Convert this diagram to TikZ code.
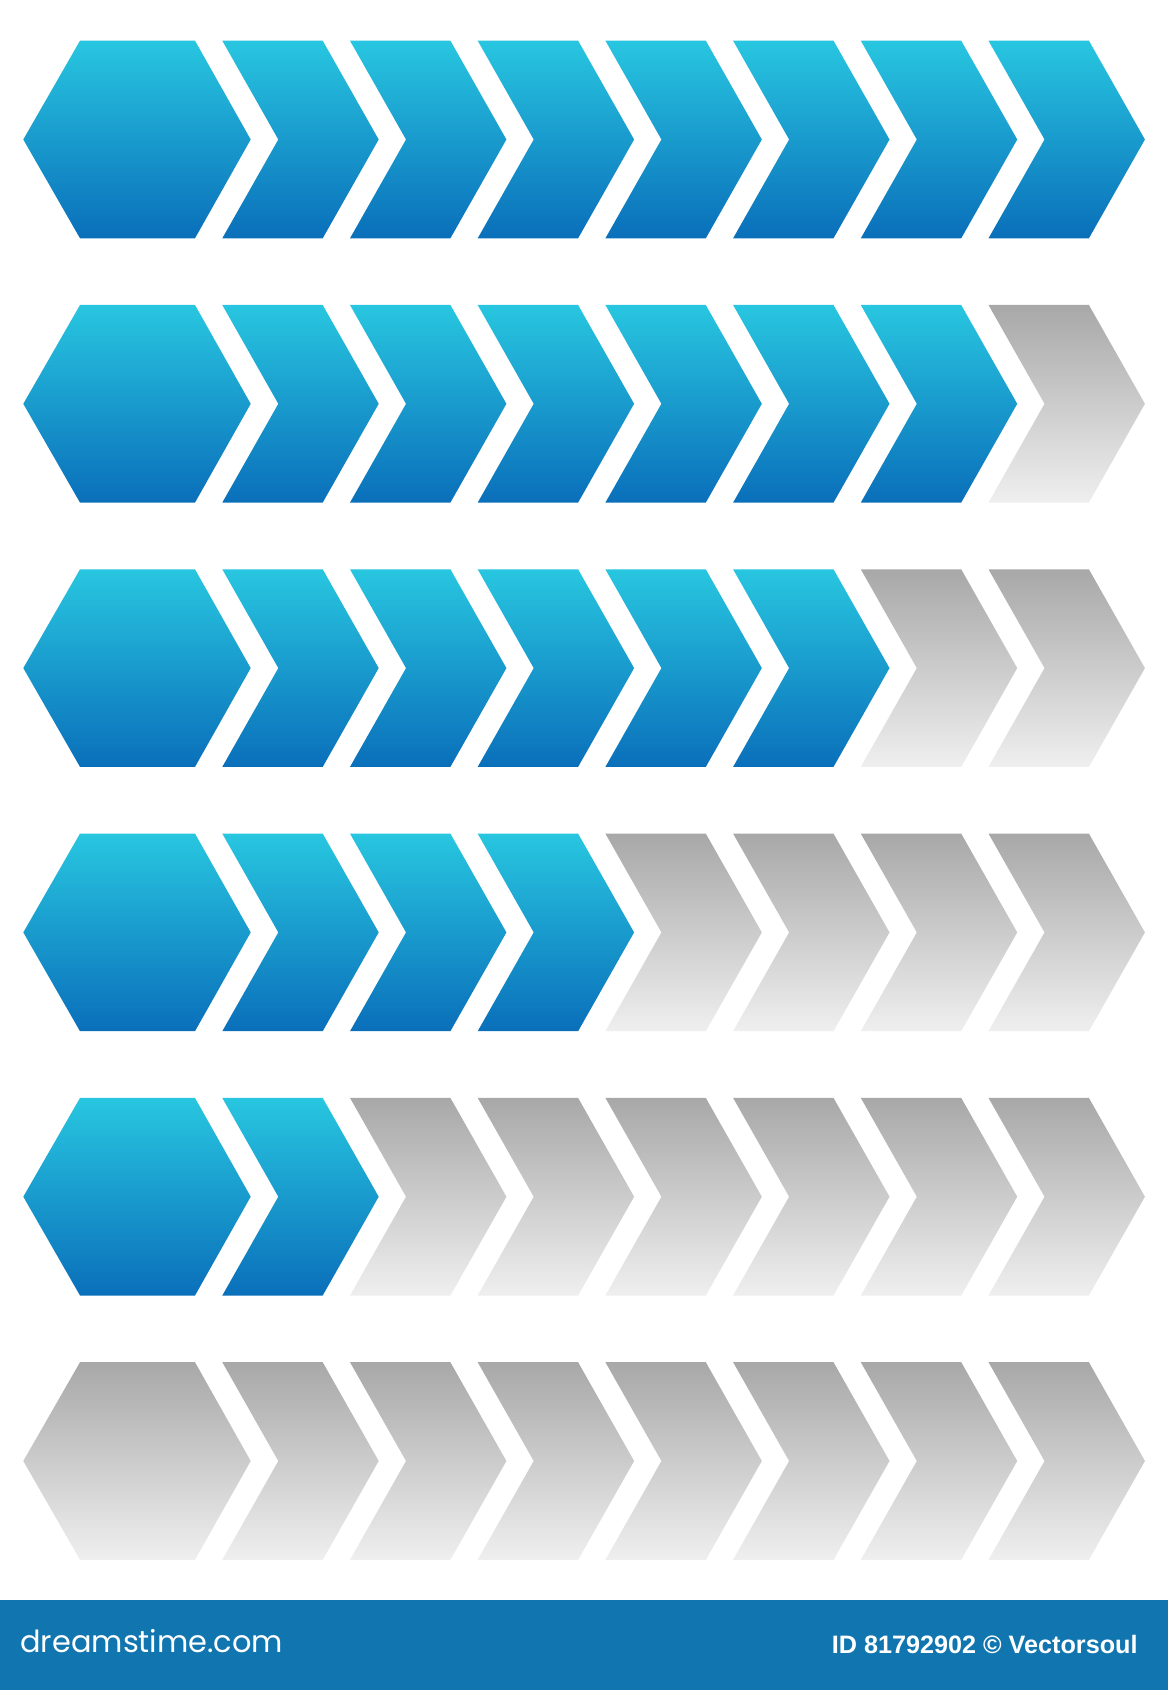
\documentclass[tikz,border=0pt]{standalone}
\usepackage{fontspec}
\newfontfamily\brandfont{Poppins}
\newfontfamily\creditfont{Liberation Sans}
\definecolor{bluetop}{RGB}{40,198,224}
\definecolor{bluebot}{RGB}{10,111,186}
\definecolor{graytop}{RGB}{168,168,168}
\definecolor{graybot}{RGB}{239,239,239}
\definecolor{barblue}{RGB}{17,118,175}
\tikzset{
  bluefill/.style={top color=bluetop,bottom color=bluebot},
  grayfill/.style={top color=graytop,bottom color=graybot},
}
\begin{document}
\begin{tikzpicture}[x=0.5pt,y=-0.5pt]
\useasboundingbox (0,0) rectangle (1168,1690);
\fill[white] (0,0) rectangle (1168,1690);
\foreach \r/\nb in {0/8,1/7,2/6,3/4,4/2,5/0}{
  \pgfmathsetmacro\tp{40.7+\r*264.3}
  \pgfmathsetmacro\bt{\tp+197.6}
  \pgfmathsetmacro\md{\tp+98.8}
  \ifnum\nb>0 \def\st{bluefill}\else\def\st{grayfill}\fi
  \path[\st] (23.3,\md) -- (80,\tp) -- (195,\tp) -- (250.7,\md) -- (195,\bt) -- (80,\bt) -- cycle;
  \foreach \k in {1,...,7}{
    \pgfmathsetmacro\xa{222.3+(\k-1)*127.7}
    \ifnum\k<\nb \def\st{bluefill}\else\def\st{grayfill}\fi
    \path[\st] (\xa,\tp) -- ++(100.4,0) -- ++(56,98.8) -- ++(-56,98.8) -- ++(-100.4,0) -- ++(56,-98.8) -- cycle;
  }
}
\fill[barblue] (0,1600) rectangle (1168,1690);
\node[anchor=base west,inner sep=0pt,text=white,font=\brandfont\fontsize{15.2}{15.2}\selectfont] (brand) at (20,1652) {dreamstime.com};
\node[anchor=base east,inner sep=0pt,text=white,font=\creditfont\bfseries\fontsize{12.6}{12.6}\selectfont] (credit) at (1138,1653) {ID 81792902 © Vectorsoul};
\end{tikzpicture}
\end{document}
